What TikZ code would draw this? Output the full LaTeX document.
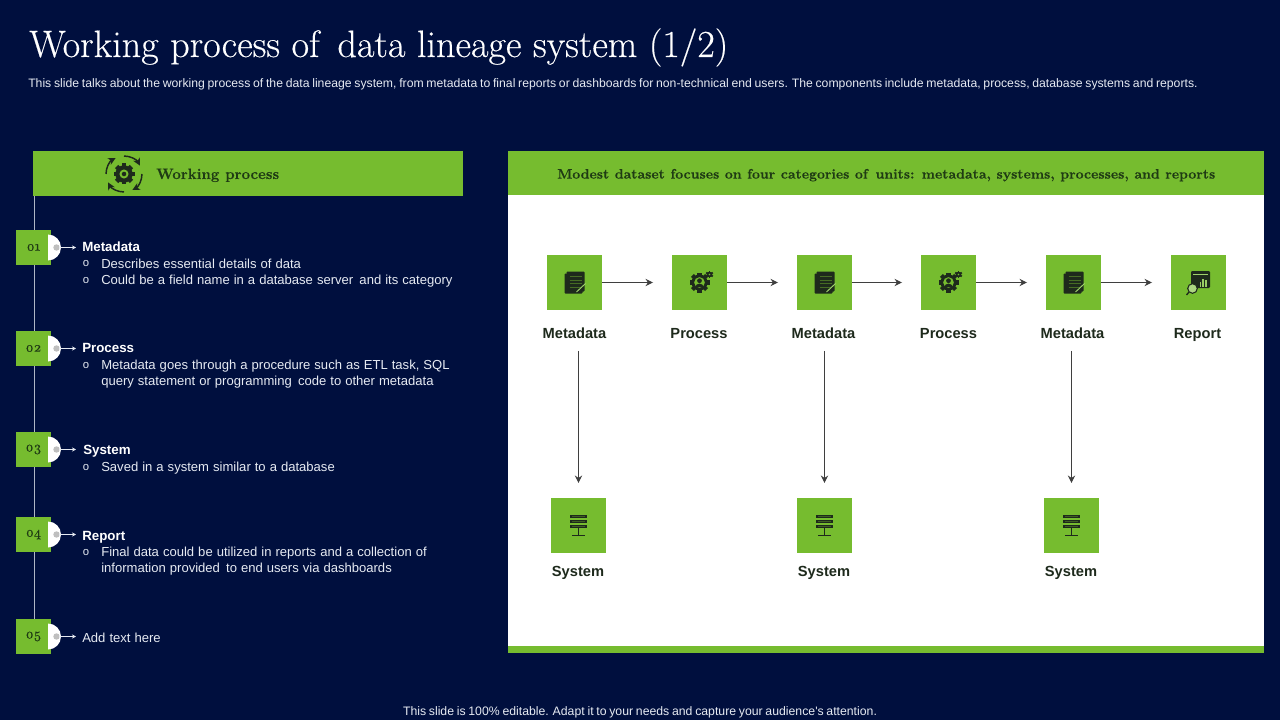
\documentclass[tikz,border=0pt]{standalone}
\usepackage{fontspec}
\usetikzlibrary{arrows.meta}
\setmainfont{Liberation Sans}
\newfontfamily\subfont[WordSpace=0.8]{Liberation Sans}
\newfontfamily\titlefont[FakeBold=0.35]{Latin Modern Roman}
\newfontfamily\headfont[WordSpace=1.05,FakeBold=0.25]{Latin Modern Roman}
\newfontfamily\numfont[Numbers=OldStyle,FakeBold=0.25]{Latin Modern Roman}
\newcommand{\itemfontsel}{\fontsize{9.8}{11}\selectfont\spaceskip 3pt plus 0pt\relax}
\definecolor{bgnavy}{HTML}{000F3E}
\definecolor{leaf}{HTML}{76BC2F}
\definecolor{ink}{HTML}{1E2A1C}
\definecolor{headink}{HTML}{1F3B14}
\definecolor{pale}{HTML}{E6EAF2}
\definecolor{spine}{HTML}{AEB6C6}
\definecolor{flowc}{HTML}{3F3F3F}
\tikzset{
  tile/.style={fill=leaf,minimum size=41.25pt,inner sep=0pt,outer sep=0pt},
  numtile/.style={fill=leaf,minimum size=26.25pt,inner sep=0pt,outer sep=0pt,text=headink,font=\numfont\fontsize{10.5}{12}\selectfont},
  tilelabel/.style={inner sep=0pt,outer sep=0pt,text=ink,text height=8pt,text depth=2.5pt,font=\fontsize{11}{12}\selectfont\bfseries},
  flow/.style={draw=flowc,line width=.75pt,-{Stealth[length=5.6pt,width=5.4pt]}},
  tickarrow/.style={draw=pale,line width=.45pt,-{Stealth[length=3pt,width=3pt]}},
  itemhead/.style={anchor=base west,inner sep=0pt,text=white,font=\fontsize{10}{11}\selectfont\bfseries},
  itemline/.style={anchor=base west,inner sep=0pt,text=pale,font=\itemfontsel},
  itemdot/.style={anchor=base,inner sep=0pt,text=pale,font=\fontsize{8.5}{9}\selectfont},
  pics/docicon/.style={code={
    \fill[ink,rounded corners=.6pt] (-10,-9) rectangle (8,11);
    \fill[ink,rounded corners=.6pt] (-8,-11) rectangle (10,9);
    \foreach \yy in {-6,-2.5,1,4.5}{\draw[leaf!45!ink,line width=.7pt] (-5,\yy) -- (7,\yy);}
    \draw[leaf!70!white,line width=.7pt] (2,9.5) -- (11,1);
  }},
  pics/gearicon/.style={code={
    \foreach \aa in {0,45,...,135}{\fill[ink,rotate=\aa] (-2.1,-10) rectangle (2.1,10);}
    \fill[ink] (0,0) circle[radius=6pt];
    \fill[leaf] (0,0) circle[radius=4pt];
    \fill[ink] (0,-1.8) circle[radius=1.8pt];
    \fill[ink] (-4.4,4.6) .. controls (-3.5,0) and (3.5,0) .. (4.4,4.6) -- cycle;
    \foreach \aa in {0,60,120}{\fill[ink,shift={(10,-8)},rotate=\aa] (-.9,-3.8) rectangle (.9,3.8);}
    \fill[ink] (10,-8) circle[radius=2.1pt];
    \fill[leaf] (10,-8) circle[radius=.7pt];
  }},
  pics/reporticon/.style={code={
    \fill[ink,rounded corners=.8pt] (-7.5,-11.5) rectangle (11.5,5.5);
    \draw[leaf!70!white,line width=.4pt] (-5.5,-8) -- (9.5,-8);
    \foreach \xx/\hh in {1/-1,3.8/-4,6.6/-2.5}{\fill[leaf!75!white] (\xx,\hh) rectangle (\xx+1.8,4);}
    \draw[ink,line width=.8pt,fill=leaf!60!white] (-6,6) circle[radius=3.6pt];
    \draw[ink,line width=1pt] (-9.6,9.6) -- (-12,12.5);
  }},
  pics/servericon/.style={code={
    \foreach \yy in {-11,-6,-1}{
      \fill[ink] (-8.5,\yy) rectangle (8.5,{\yy+3.9});
      \draw[leaf!35!ink,line width=.5pt] (-6.5,{\yy+1.95}) -- (6.5,{\yy+1.95});
    }
    \draw[ink,line width=.7pt] (0,2) -- (0,9.5);
    \draw[ink,line width=.7pt] (-6.5,9.5) -- (6.5,9.5);
  }},
  pics/cycleicon/.style={code={
    \foreach \aa in {0,45,...,135}{\fill[ink,rotate=\aa] (-2.3,-10.5) rectangle (2.3,10.5);}
    \fill[ink] (0,0) circle[radius=6.5pt];
    \fill[leaf] (0,0) circle[radius=3.4pt];
    \fill[ink] (0,0) circle[radius=1.7pt];
    \foreach \sa in {90,180,0,-90}{
      \draw[ink,line width=1.1pt,-{Stealth[length=5.5pt,width=5.5pt]}] ({18*cos(\sa)},{-18*sin(\sa)}) arc[start angle=\sa,delta angle=-62,radius=13.5pt];
    }
  }}
}
\begin{document}
\begin{tikzpicture}[x=.75pt,y=-.75pt]
\useasboundingbox (0,0) rectangle (1280,720);
\fill[bgnavy] (0,0) rectangle (1280,720);

% Title block
\node[anchor=base west,inner sep=0pt,text=white,font=\titlefont\fontsize{28.6}{32}\selectfont] (title) at (29,57) {Working process of\, data lineage system (1/2)};
\node[anchor=base west,inner sep=0pt,text=pale,font=\subfont\fontsize{9.17}{10}\selectfont] (sub) at (28,88) {This slide talks about the working process of the data lineage system, from metadata to final reports or dashboards for non-technical end users. The components include metadata, process, database systems and reports.};
\node[anchor=base,inner sep=0pt,text=pale,font=\subfont\fontsize{9.2}{10}\selectfont] (foot) at (640,715) {This slide is 100\% editable. Adapt it to your needs and capture your audience's attention.};

% Left column
\coordinate (spinetop) at (34.5,196);
\coordinate (spinebottom) at (34.5,619);
\draw[spine,line width=.6pt] (spinetop) -- (spinebottom);
\node[fill=leaf,minimum width=322.5pt,minimum height=33.75pt,inner sep=0pt,anchor=north west] (lefthead) at (33,151) {};
\pic at (124,174) {cycleicon};
\node[anchor=base west,inner sep=0pt,text=headink,font=\headfont\bfseries\fontsize{11.3}{13}\selectfont] (lefttitle) at (156,179) {Working process};

\foreach \nm/\num/\yc in {n1/01/247.5,n2/02/348.5,n3/03/449.5,n4/04/534.5,n5/05/636.5}{
  \node[numtile] (\nm) at (33.5,\yc) {\num};
  \fill[white] (48,\yc-13) arc[start angle=90,end angle=-90,radius=9.75pt] -- cycle;
  \fill[black!25] (56.5,\yc) circle[radius=2.4pt];
  \coordinate (\nm tip) at (76,\yc);
  \coordinate (\nm start) at (59,\yc);
  \draw[tickarrow] (\nm start) -- (\nm tip);
}

\node[itemhead] (t1) at (82,252) {Metadata};
\node[itemdot] (d1a) at (86,267) {o};
\node[itemline] (l1a) at (101,268) {Describes essential details of data};
\node[itemdot] (d1b) at (86,283) {o};
\node[itemline] (l1b) at (101,284) {Could be a field name in a database server\, and its category};

\node[itemhead] (t2) at (82,352) {Process};
\node[itemdot] (d2a) at (86,368) {o};
\node[itemline] (l2a) at (101,369) {Metadata goes through a procedure such as ETL task, SQL};
\node[itemline] (l2b) at (101,385) {query statement or programming\, code to other metadata};

\node[itemhead] (t3) at (83,454.5) {System};
\node[itemdot] (d3a) at (86,470) {o};
\node[itemline] (l3a) at (101,471) {Saved in a system similar to a database};

\node[itemhead] (t4) at (82,540) {Report};
\node[itemdot] (d4a) at (86,555) {o};
\node[itemline] (l4a) at (101,556) {Final data could be utilized in reports and a collection of};
\node[itemline] (l4b) at (101,572) {information provided\, to end users via dashboards};

\node[itemline] (t5) at (82,642) {Add text here};

% Right panel
\node[fill=white,minimum width=567pt,minimum height=338.25pt,inner sep=0pt,anchor=north west] (panel) at (508,195) {};
\node[fill=leaf,minimum width=567pt,minimum height=33pt,inner sep=0pt,anchor=north west,text=headink,text height=10pt,text depth=2pt,font=\headfont\bfseries\fontsize{10.35}{13}\selectfont] (righthead) at (508,151) {Modest dataset focuses on four categories of\, units: metadata, systems, processes, and reports};
\node[fill=leaf,minimum width=567pt,minimum height=5.25pt,inner sep=0pt,anchor=north west] (band) at (508,646) {};

% Top row
\node[tile] (m1) at (574.5,282.5) {};
\node[tile] (p1) at (699.5,282.5) {};
\node[tile] (m2) at (824.5,282.5) {};
\node[tile] (p2) at (948.5,282.5) {};
\node[tile] (m3) at (1073.5,282.5) {};
\node[tile] (r1) at (1198.5,282.5) {};
\pic at (m1) {docicon};
\pic at (p1) {gearicon};
\pic at (m2) {docicon};
\pic at (p2) {gearicon};
\pic at (m3) {docicon};
\pic at (r1) {reporticon};

\node[tilelabel] (lm1) at (574.5,335.3) {Metadata};
\node[tilelabel] (lp1) at (699,335.3) {Process};
\node[tilelabel] (lm2) at (823.5,335.3) {Metadata};
\node[tilelabel] (lp2) at (948.5,335.3) {Process};
\node[tilelabel] (lm3) at (1072.5,335.3) {Metadata};
\node[tilelabel] (lr1) at (1197.5,335.3) {Report};

% Bottom row
\node[tile] (s1) at (578.5,525.5) {};
\node[tile] (s2) at (824.5,525.5) {};
\node[tile] (s3) at (1071.5,525.5) {};
\pic at (s1) {servericon};
\pic at (s2) {servericon};
\pic at (s3) {servericon};
\node[tilelabel] (ls1) at (578,573) {System};
\node[tilelabel] (ls2) at (824,573) {System};
\node[tilelabel] (ls3) at (1071,573) {System};

% Connectors
\foreach \aa/\bb in {m1/p1,p1/m2,m2/p2,p2/m3,m3/r1}{
  \draw[flow,shorten >=14.25pt] (\aa.east) -- (\bb.west);
}
\foreach \aa/\bb in {lm1/s1,lm2/s2,lm3/s3}{
  \draw[flow,shorten >=11.25pt,shorten <=6.5pt] (\aa.south -| \bb.north) -- (\bb.north);
}
\end{tikzpicture}
\end{document}
